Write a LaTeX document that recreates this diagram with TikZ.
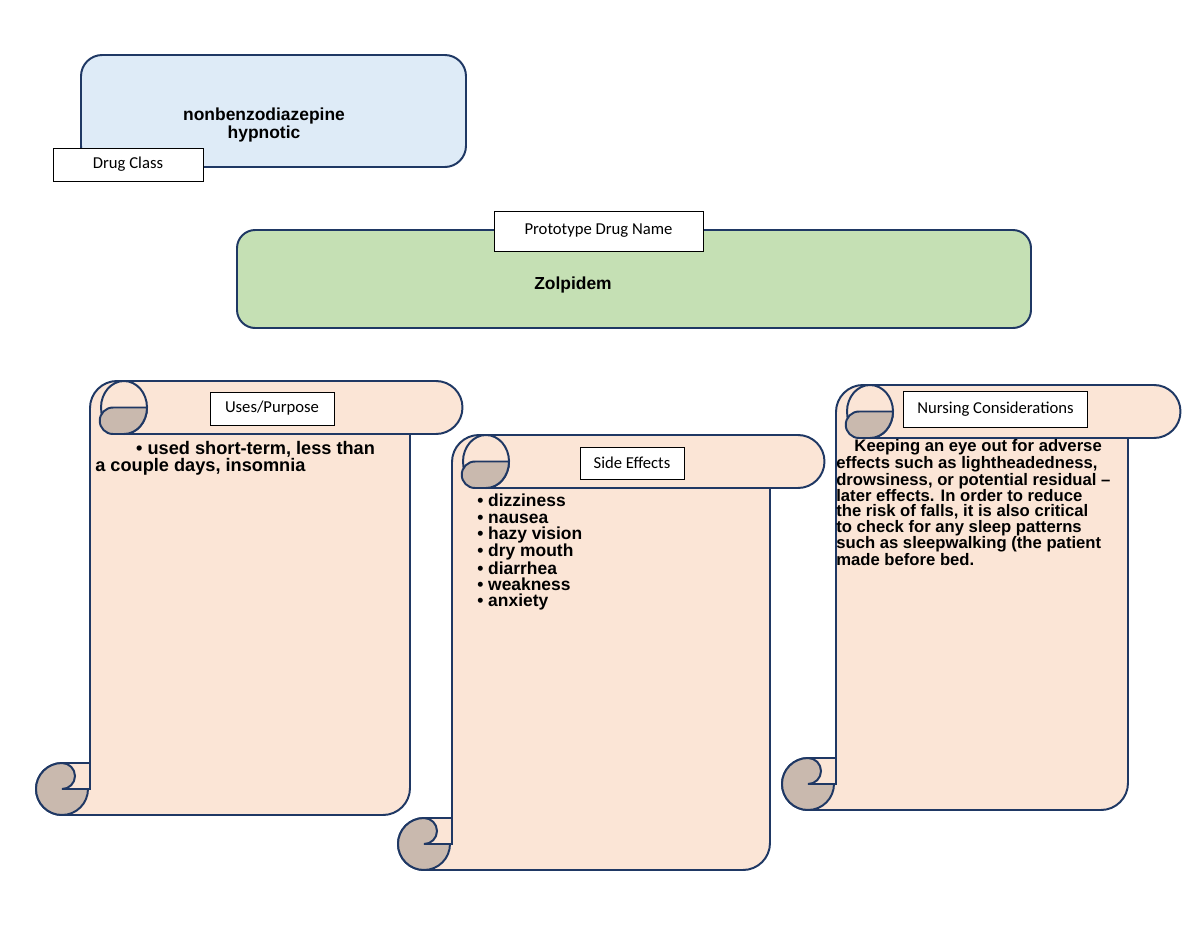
\documentclass[tikz,border=0pt]{standalone}
\usepackage{fontspec}
\setmainfont{Carlito}
\newfontfamily\heavyfont{Liberation Sans}
\usetikzlibrary{positioning}
\definecolor{navy}{HTML}{1F3864}
\definecolor{classblue}{HTML}{DEEBF7}
\definecolor{protogreen}{HTML}{C5E0B4}
\definecolor{paper}{HTML}{FBE5D6}
\definecolor{curl}{HTML}{C9B9AE}
% scroll: #1 curl left, #2 top, #3 band right, #4 body right, #5 bottom
\newcommand{\scrollbox}[5]
{
	\filldraw[scrollline, fill=paper] ({#1+55},{#2+27}) arc[start angle=180, end angle=270, radius=27]
		-- ({#3-27},#2) arc[start angle=270, end angle=450, radius=26.5]
		-- (#4,{#2+53}) -- (#4,{#5-27}) arc[start angle=0, end angle=90, radius=27]
		-- ({#1+27},#5) arc[start angle=90, end angle=270, radius=26]
		-- ({#1+55},{#5-52}) -- cycle;
	\draw[scrollline] ({#1+89},{#2+53}) -- (#4,{#2+53});
	\draw[scrollline] ({#1+89},{#2+26.5}) ellipse[x radius=23, y radius=26.5];
	\filldraw[scrollline, fill=curl] ({#1+78},{#2+26.5}) -- ({#1+112},{#2+26.5})
		arc[start angle=0, end angle=90, x radius=23, y radius=26.5]
		-- ({#1+78},{#2+53}) arc[start angle=90, end angle=270, radius=13.25] -- cycle;
	\fill[curl] ({#1+27},{#5-26}) circle[radius=26];
	\filldraw[scrollline, fill=paper] ({#1+27},{#5-52}) -- ({#1+55},{#5-52}) -- ({#1+55},{#5-26})
		-- ({#1+27},{#5-26}) arc[start angle=90, end angle=-90, radius=13];
	\draw[scrollline] ({#1+27},#5) arc[start angle=90, end angle=0, radius=26];
	\draw[scrollline] ({#1+27},#5) arc[start angle=90, end angle=270, radius=26];
}

\begin{document}
\begin{tikzpicture}[x=0.66pt, y=-0.66pt,
	scrollline/.style={draw=navy, line width=1.3pt},
	labelbox/.style={draw=black, fill=white, line width=0.6pt, inner sep=0pt,
		font=\fontsize{11}{13}\selectfont},
	heavytext/.style={inner sep=0pt, text=black,
		font=\heavyfont\bfseries\fontsize{11.5}{10.5}\selectfont}]

	\useasboundingbox (0,0) rectangle (1200,928);

	% drug class
	\filldraw[scrollline, fill=classblue, rounded corners=14pt] (81,55) rectangle (466,167);
	\node[heavytext, align=center] at (264,125) (classname){nonbenzodiazepine\\hypnotic};
	\node[labelbox, minimum width=99pt, minimum height=21.8pt] at (128,164.5) (classlabel){Drug Class};

	% prototype
	\filldraw[scrollline, fill=protogreen, rounded corners=12pt] (237,230) rectangle (1031,328);
	\node[labelbox, minimum width=138pt, minimum height=26.4pt] at (598.5,231) (protolabel){Prototype Drug Name};
	\node[heavytext] at (573,285) (drugname){Zolpidem};

	% scrolls
	\scrollbox{35}{381}{463}{410}{815}
	\scrollbox{397}{435}{825}{770}{870}
	\scrollbox{781}{385}{1181}{1128}{810}

	\node[labelbox, minimum width=81.8pt, minimum height=21.8pt] at (272,408.5) (uselabel){Uses/Purpose};
	\node[labelbox, minimum width=68.6pt, minimum height=21.1pt] at (632,463) (sidelabel){Side Effects};
	\node[labelbox, minimum width=122pt, minimum height=23.8pt] at (995.5,409) (nurselabel){Nursing Considerations};

	\node[heavytext, anchor=north west, align=left, font=\heavyfont\bfseries\fontsize{12}{10.5}\selectfont]
		at (95,441) (usetext)
		{\hspace*{27pt}\textbullet\ used short-term, less than\\a couple days, insomnia};
	\node[heavytext, anchor=north west, align=left, font=\heavyfont\bfseries\fontsize{11.5}{10.6}\selectfont]
		at (477,494) (sidetext)
		{\textbullet\ dizziness\\\textbullet\ nausea\\\textbullet\ hazy vision\\\textbullet\ dry mouth\\
		\textbullet\ diarrhea\\\textbullet\ weakness\\\textbullet\ anxiety};
	\node[heavytext, anchor=north west, align=left, font=\heavyfont\bfseries\fontsize{11}{10.3}\selectfont]
		at (836,439) (nursetext)
		{\hspace*{12pt}Keeping an eye out for adverse\\effects such as lightheadedness,\\
		drowsiness, or potential residual \textendash\\later effects. In order to reduce\\
		the risk of falls, it is also critical\\to check for any sleep patterns\\
		such as sleepwalking (the patient\\made before bed.};
\end{tikzpicture}
\end{document}
